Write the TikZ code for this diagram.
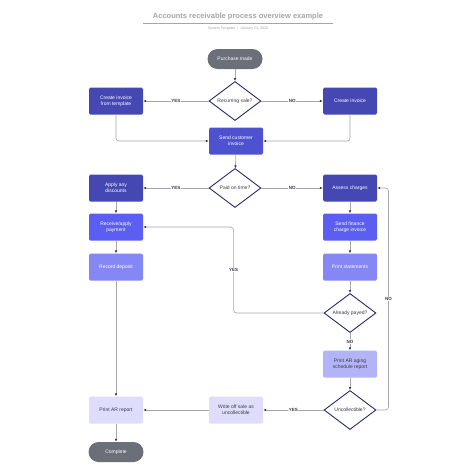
\documentclass[tikz,border=0pt]{standalone}
\usepackage{fontspec}
\setmainfont{Liberation Sans}
\usepackage{xcolor}
\definecolor{ar-navy}{HTML}{4547B3}
\definecolor{ar-indigo}{HTML}{4E51D0}
\definecolor{ar-blue}{HTML}{5B5EF0}
\definecolor{ar-violet}{HTML}{8587F5}
\definecolor{ar-lilac}{HTML}{B3B4F7}
\definecolor{ar-mist}{HTML}{DEDEFC}
\definecolor{ar-slate}{HTML}{6B6F78}
\definecolor{ar-edge}{HTML}{2B2C6E}
\definecolor{ar-line}{HTML}{A6A6AA}
\definecolor{ar-ink}{HTML}{3A3A46}
\usetikzlibrary{shapes.geometric,arrows.meta}

\tikzset{
  card/.style={rounded corners=1.5pt, minimum width=54pt, minimum height=27pt,
    inner sep=1pt, align=center, font=\fontsize{5}{6}\selectfont, text=white},
  term/.style={card, fill=ar-slate, rounded corners=10pt, minimum width=55pt, minimum height=20pt},
  choice/.style={diamond, draw=ar-edge, line width=0.9pt, fill=white, aspect=1.33,
    minimum width=52pt, minimum height=39pt, inner sep=0pt,
    font=\fontsize{5}{6}\selectfont, text=ar-ink},
  flow/.style={draw=ar-line, line width=0.6pt, rounded corners=3pt,
    -{Latex[length=3pt,width=2.6pt,color=ar-ink]}},
  tag/.style={fill=white, inner sep=0.6pt, font=\bfseries\fontsize{4.5}{5}\selectfont, text=ar-ink}
}

\begin{document}
\begin{tikzpicture}[x=1pt,y=-1pt]

    % Background
    \fill[white] (0,0) rectangle (474,474);
    \useasboundingbox (0,0) rectangle (474,474);

    % Header
    \node[font=\bfseries\fontsize{7.5}{9}\selectfont, text=ar-line] (title) at (238,17) {Accounts receivable process overview example};
    \draw[ar-line, line width=0.5pt] (143,23.5) -- (333,23.5);
    \node[font=\fontsize{3.6}{4}\selectfont, text=ar-line] (sub) at (238,28.5) {System Template \ | \ January 23, 2020};

    % Top row
    \node[term] (buy) at (235,59) {Purchase made};
    \node[choice] (rec) at (235,101) {Recurring sale?};
    \node[card, fill=ar-navy] (tpl) at (116,101) {Create invoice\\from template};
    \node[card, fill=ar-navy] (new) at (350,101) {Create invoice};
    \node[card, fill=ar-indigo] (send) at (236,141) {Send customer\\invoice};

    % Payment check
    \node[choice] (paid) at (235,188) {Paid on time?};
    \node[card, fill=ar-navy] (disc) at (116,188) {Apply any\\discounts};
    \node[card, fill=ar-blue] (recv) at (116,227) {Receive/apply\\payment};
    \node[card, fill=ar-violet] (dep) at (116,267) {Record deposit};
    \node[card, fill=ar-navy] (fee) at (350,188) {Assess charges};
    \node[card, fill=ar-blue] (fin) at (350,227) {Send finance\\charge invoice};
    \node[card, fill=ar-violet] (stmt) at (350,267) {Print statements};

    % Collection
    \node[choice] (again) at (350,313) {Already payed?};
    \node[card, fill=ar-lilac, text=ar-ink] (aging) at (350,364) {Print AR aging\\schedule report};
    \node[choice] (lost) at (350,410) {Uncollectible?};
    \node[card, fill=ar-mist, text=ar-ink] (wo) at (236,410) {Write off sale as\\uncollectible};
    \node[card, fill=ar-mist, text=ar-ink] (rep) at (116,410) {Print AR report};
    \node[term] (done) at (116,452) {Complete};

    % Connectors
    \draw[flow] (buy) -- (rec);
    \draw[flow] (rec) -- node[tag] {YES} (tpl);
    \draw[flow] (rec) -- node[tag] {NO} (new);
    \draw[flow] (tpl.south) |- (send.west);
    \draw[flow] (new.south) |- (send.east);
    \draw[flow] (send) -- (paid);
    \draw[flow] (paid) -- node[tag] {YES} (disc);
    \draw[flow] (paid) -- node[tag] {NO} (fee);
    \draw[flow] (disc) -- (recv);
    \draw[flow] (recv) -- (dep);
    \draw[flow] (dep) -- (rep);
    \draw[flow] (fee) -- (fin);
    \draw[flow] (fin) -- (stmt);
    \draw[flow] (stmt) -- (again);
    \draw[flow] (again.west) -- ++(-90,0) |- node[tag, pos=0.25] {YES} (recv.east);
    \draw[flow] (again) -- node[tag] {NO} (aging);
    \draw[flow] (aging) -- (lost);
    \draw[flow] (lost.east) -- ++(12,0) |- node[tag, pos=0.25] {NO} (fee.east);
    \draw[flow] (lost) -- node[tag] {YES} (wo);
    \draw[flow] (wo) -- (rep);
    \draw[flow] (rep) -- (done);

\end{tikzpicture}
\end{document}
